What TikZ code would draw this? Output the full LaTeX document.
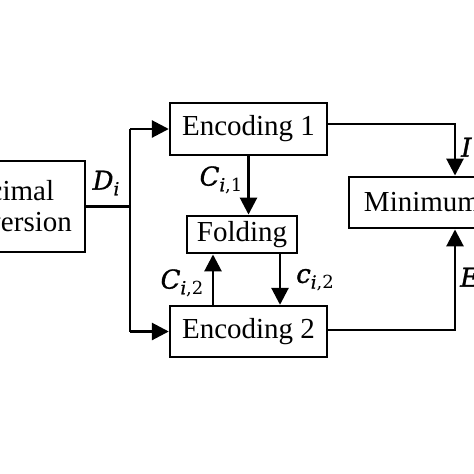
\documentclass[tikz,border=0pt]{standalone}
\usepackage{fontspec}
\setmainfont{Liberation Serif}
\newfontfamily\labfont{DejaVu Serif}[ItalicFeatures={FakeBold=1.2}]
\usetikzlibrary{arrows.meta}
\newcommand\lab[2]{{\fontsize{26}{26}\selectfont\labfont\itshape #1\raisebox{-0.22em}{\fontsize{18}{18}\selectfont #2}}}
\begin{document}
\begin{tikzpicture}[x=1pt,y=-1pt,
  box/.style={draw, line width=2.4pt, inner sep=0pt, font=\fontsize{29}{31}\selectfont, align=center},
  conn/.style={line width=2.8pt},
  arr/.style={conn, -{Triangle[length=17pt,width=17pt]}},
  lbl/.style={inner sep=0pt}]
\useasboundingbox (0,0) rectangle (474,474);
\node[box, minimum width=160, minimum height=91] (dec) at (5,206.5) {Decimal\\Conversion};
\node[box, minimum width=157, minimum height=52] (enc1) at (248.5,129) {Encoding 1};
\node[box, minimum width=110, minimum height=37.5] (fold) at (242,234.5) {Folding};
\node[box, minimum width=157, minimum height=51] (enc2) at (248.5,331.5) {Encoding 2};
\node[box, minimum width=146, minimum height=51.5] (min) at (422,202.5) {Minimum};
\coordinate (j) at (130,206.5);
\coordinate (jt) at (130,129);
\coordinate (jb) at (130,331.5);
\draw[conn] (dec.east) -- (j);
\draw[conn] (jt) -- (jb);
\draw[arr] (jt) -- (enc1.west);
\draw[arr] (jb) -- (enc2.west);
\draw[arr] (enc1.south) -- (enc1.south |- fold.north);
\draw[arr] ([xshift=38]fold.south) -- ([xshift=38]fold.south |- enc2.north);
\draw[arr] ([xshift=-29]fold.south |- enc2.north) -- ([xshift=-29]fold.south);
\draw[arr] ([yshift=5]enc1.east) -| ([xshift=33]min.north);
\draw[arr] ([yshift=1.5]enc2.east) -| ([xshift=33]min.south);
\node[lbl] (ld) at (106,183) {\lab{D}{i}};
\node[lbl] (lc1) at (221,180) {\lab{C}{i{\upshape ,1}}};
\node[lbl] (lc2) at (182,283) {\lab{C}{i{\upshape ,2}}};
\node[lbl] (lc3) at (315,280) {\lab{c}{i{\upshape ,2}}};
\node[lbl, anchor=west] (li) at (461,150) {\lab{I}{}};
\node[lbl, anchor=west] (le) at (460,280) {\lab{E}{}};
\end{tikzpicture}
\end{document}
